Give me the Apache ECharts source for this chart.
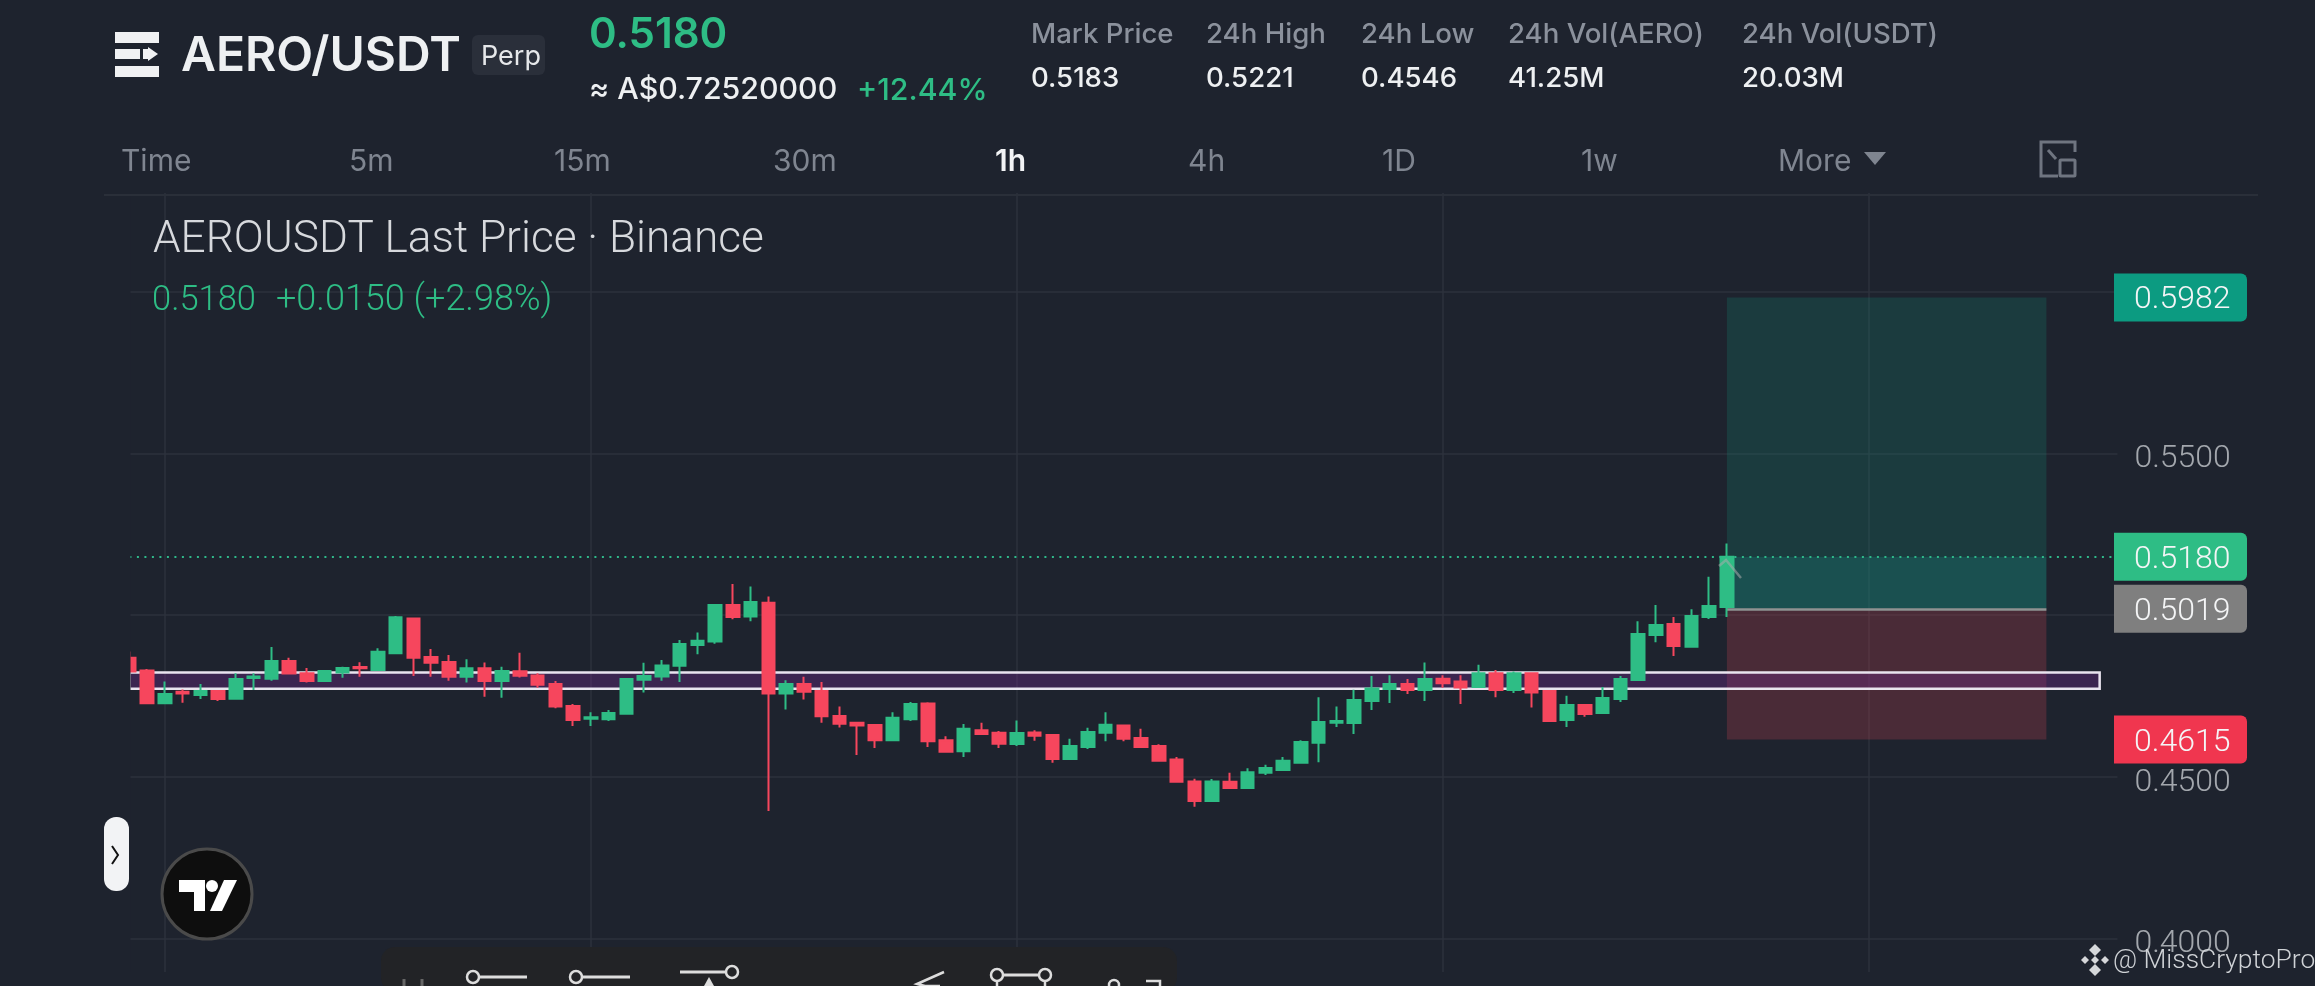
<!DOCTYPE html>
<html><head><meta charset="utf-8">
<style>html,body{margin:0;padding:0;background:#1e232e}#c{width:2315px;height:986px}</style>
<script src="https://cdn.jsdelivr.net/npm/echarts@6/dist/echarts.min.js"></script>
</head><body><div id="c"></div>
<script>
// candle values (hourly, oldest first)
const opens=[.4868,.4828,.4727,.4763,.4753,.4765,.4741,.4805,.4803,.4858,.4820,.4796,.4822,.4839,.4830,.4882,.4989,.4870,.4855,.4809,.4835,.4796,.4826,.4813,.4787,.4719,.4679,.4678,.4695,.4800,.4810,.4843,.4907,.4918,.5031,.4995,.5038,.4757,.4787,.4765,.4688,.4667,.4660,.4613,.4678,.4726,.4613,.4579,.4644,.4636,.4601,.4637,.4629,.4555,.4592,.4636,.4658,.4620,.4595,.4553,.4485,.4425,.4484,.4465,.4512,.4521,.4543,.4605,.4667,.4666,.4734,.4771,.4787,.4768,.4803,.4794,.4777,.4820,.4768,.4820,.4765,.4675,.4722,.4697,.4740,.4799,.4938,.4972,.4902,.4994,.5025];
const closes=[.4825,.4727,.4756,.4757,.4765,.4740,.4802,.4810,.4858,.4819,.4796,.4827,.4836,.4835,.4886,.4993,.4868,.4852,.4809,.4835,.4796,.4827,.4812,.4784,.4717,.4675,.4684,.4697,.4802,.4811,.4844,.4910,.4920,.5031,.4994,.5040,.4757,.4787,.4763,.4687,.4664,.4658,.4613,.4682,.4725,.4610,.4577,.4648,.4632,.4602,.4635,.4627,.4555,.4595,.4638,.4661,.4617,.4592,.4549,.4484,.4425,.4485,.4465,.4514,.4527,.4549,.4607,.4669,.4672,.4737,.4773,.4787,.4768,.4802,.4789,.4776,.4820,.4768,.4820,.4760,.4672,.4722,.4694,.4743,.4802,.4941,.4969,.4904,.4997,.5028,.5180];
const lows=[.4822,.4727,.4727,.4729,.4740,.4734,.4740,.4768,.4797,.4819,.4791,.4796,.4806,.4809,.4830,.4879,.4811,.4809,.4797,.4791,.4747,.4744,.4807,.4775,.4712,.4657,.4657,.4672,.4693,.4760,.4797,.4793,.4879,.4911,.4987,.4981,.4394,.4708,.4739,.4667,.4652,.4567,.4589,.4611,.4672,.4592,.4574,.4561,.4630,.4589,.4595,.4611,.4543,.4553,.4586,.4610,.4610,.4592,.4549,.4482,.4407,.4425,.4462,.4465,.4505,.4521,.4543,.4545,.4654,.4632,.4706,.4728,.4756,.4734,.4775,.4725,.4777,.4746,.4759,.4714,.4672,.4654,.4685,.4697,.4731,.4799,.4916,.4873,.4902,.4988,.4994];
const highs=[.4887,.4833,.4794,.4770,.4787,.4768,.4820,.4820,.4901,.4868,.4836,.4827,.4840,.4854,.4897,.4997,.4989,.4895,.4876,.4863,.4853,.4840,.4883,.4820,.4796,.4725,.4699,.4706,.4805,.4852,.4861,.4923,.4946,.5031,.5096,.5088,.5057,.4798,.4809,.4793,.4717,.4667,.4660,.4699,.4731,.4730,.4625,.4663,.4667,.4641,.4674,.4644,.4629,.4617,.4651,.4699,.4660,.4648,.4600,.4561,.4494,.4493,.4512,.4526,.4537,.4561,.4613,.4746,.4717,.4769,.4811,.4814,.4802,.4853,.4814,.4814,.4846,.4830,.4825,.4822,.4765,.4750,.4725,.4777,.4811,.4981,.5031,.4994,.5018,.5118,.5221];
const yTicks={min:.35,max:.65,step:.05};
const lastPrice=.5180, targetPrice=.5982, entryPrice=.5019, stopPrice=.4615;
const zoneTop=.4822, zoneBottom=.4772;
const slotCount=113;
const categories=[]; for(let i=0;i<slotCount;i++) categories.push(String(i));
const entryIdx=90, posEndIdx=108, zoneEndIdx=111;
const candleData=opens.map((o,i)=>[o,closes[i],lows[i],highs[i]]);

const chart=echarts.init(document.getElementById('c'),null,{renderer:'canvas',width:2315,height:986});
const BG='#1e232e', GRID='#2d323c';
chart.setOption({
 animation:false,backgroundColor:BG,
 grid:{left:129.4,width:1988,top:129.9,height:970.2,outerBoundsMode:'none'},
 xAxis:{type:'category',data:categories,boundaryGap:false,axisLine:{show:false},axisTick:{show:false},axisLabel:{show:false},
   splitLine:{show:true,interval:i=>(i-2)%24===0,lineStyle:{color:GRID,width:1.5}}},
 yAxis:{type:'value',position:'right',min:yTicks.min,max:yTicks.max,interval:yTicks.step,scale:true,
   axisLine:{show:false},axisTick:{show:false},
   axisLabel:{margin:17,formatter:v=>'{a|'+v.toFixed(4)+'}',
     rich:{a:{padding:[12,0,0,0],color:'#a3a7ad',fontFamily:'Roboto',fontWeight:300,fontSize:32}}},
   splitLine:{show:true,lineStyle:{color:GRID,width:1.5}}},
 series:[
  {type:'line',data:[],z:1,silent:true,markArea:{silent:true,z:1,data:[
    [{xAxis:entryIdx,yAxis:targetPrice,itemStyle:{color:'rgba(20,130,110,.25)'}},{xAxis:posEndIdx,yAxis:lastPrice}],
    [{xAxis:entryIdx,yAxis:lastPrice,itemStyle:{color:'rgba(23,135,122,.45)'}},{xAxis:posEndIdx,yAxis:entryPrice}],
    [{xAxis:entryIdx,yAxis:entryPrice,itemStyle:{color:'rgba(180,62,77,.3)'}},{xAxis:posEndIdx,yAxis:stopPrice}]
  ]},markLine:{silent:true,symbol:'none',label:{show:false},z:1,animation:false,
    lineStyle:{color:'#8e9493',width:2.5,type:'solid'},
    data:[[{xAxis:entryIdx,yAxis:entryPrice},{xAxis:posEndIdx,yAxis:entryPrice}]]}},
  {type:'line',data:[],z:2,silent:true,markArea:{silent:true,z:2,data:[
    [{xAxis:0,yAxis:zoneTop,itemStyle:{color:'rgba(115,44,143,.35)',borderColor:'#e9e4ef',borderWidth:2.5}},{xAxis:zoneEndIdx,yAxis:zoneBottom}]
  ]}},
  {type:'candlestick',name:'AEROUSDT',z:3,barWidth:13,data:candleData,
   itemStyle:{color:'#2ebd85',color0:'#f6465d',borderColor:'#2ebd85',borderColor0:'#f6465d',borderWidth:2}},
  {type:'line',data:[],z:4,silent:true,markLine:{silent:true,symbol:'none',label:{show:false},z:4,animation:false,
     lineStyle:{color:'#2fb98a',width:2,type:[2,5.5]},
     data:[[{xAxis:0,yAxis:lastPrice},{xAxis:slotCount-1,yAxis:lastPrice}]]}}
 ]
});

// chrome around the chart
const F='Inter, "Open Sans", sans-serif', R='Roboto, sans-serif';
const el=[]; const Z=100;
const t=(text,x,y,size,fill,weight,family,align,sx)=>el.push({type:'text',z:Z+2,silent:true,x,y,scaleX:sx||1,style:{text,x:0,y:0,fill,font:`${weight||400} ${size}px ${family||F}`,textAlign:align||'left',textVerticalAlign:'middle'}});
const rect=(x,y,w,h,fill,r,stroke,lw)=>el.push({type:'rect',z:Z+1,silent:true,shape:{x,y,width:w,height:h,r:r||0},style:{fill:fill||'none',stroke:stroke||null,lineWidth:lw||0}});
const line=(x1,y1,x2,y2,stroke,lw)=>el.push({type:'line',z:Z+2,silent:true,shape:{x1,y1,x2,y2},style:{stroke,lineWidth:lw}});
const circle=(cx,cy,r,fill,stroke,lw)=>el.push({type:'circle',z:Z+2,silent:true,shape:{cx,cy,r},style:{fill,stroke,lineWidth:lw}});
const poly=(pts,fill,stroke,lw,open)=>el.push({type:open?'polyline':'polygon',z:Z+2,silent:true,shape:{points:pts},style:{fill:open?'none':fill,stroke:stroke||null,lineWidth:lw||0}});
// masks around the plot
el.push({type:'rect',z:Z,silent:true,shape:{x:0,y:0,width:2315,height:193},style:{fill:BG}});
el.push({type:'rect',z:Z,silent:true,shape:{x:0,y:972,width:2315,height:14},style:{fill:BG}});
el.push({type:'rect',z:Z,silent:true,shape:{x:0,y:193,width:130.5,height:779},style:{fill:BG}});
rect(104,194,2154,2,'#2a2f39');
// logo
rect(115,32,44,11,'#f0f1f3');rect(115,66,44,11,'#f0f1f3');rect(115,49,25,10,'#f0f1f3');rect(143,49,5,10,'#f0f1f3');
poly([[148,47],[158,54],[148,61]],'#f0f1f3');
t('AERO/USDT',181,57,48,'#eef0f2',600);
rect(472,35,73,40,'#2a2f3a',6);
t('Perp',481,57,27,'#e6e8ea',400);
t('0.5180',589,35,42,'#2ebd85',600);
t('≈ A$0.72520000',589,90,30.3,'#eef0f2',500);
t('+12.44%',857,91,30.3,'#2ebd85',500);
const statLabels=['Mark Price','24h High','24h Low','24h Vol(AERO)','24h Vol(USDT)'];
const statValues=['0.5183','0.5221','0.4546','41.25M','20.03M'];
const statX=[1031,1206,1361,1508,1742];
statLabels.forEach((s,i)=>{t(s,statX[i],35,27.6,'#8b919c',500);t(statValues[i],statX[i],79,27.6,'#eef0f2',500);});
const tabs=['Time','5m','15m','30m','1h','4h','1D','1w','More'];
const tabX=[121,349,554,773,995,1188,1382,1581,1778];
tabs.forEach((s,i)=>t(s,tabX[i],162,30,s==='1h'?'#f2f3f5':'#7f8590',s==='1h'?600:400));
poly([[1864,152],[1886,152],[1875,165]],'#7f8590');
poly([[2058,142],[2041,142],[2041,176],[2058,176]],null,'#6f7580',3,true);
poly([[2058,142],[2075,142],[2075,152]],null,'#6f7580',3,true);
rect(2060,160,15,16,BG,1,'#6f7580',3);
line(2048,150,2056,159,'#6f7580',3);
t('AEROUSDT Last Price · Binance',153,241,44.2,'#d7d9dd',300,R);
t('0.5180',152,301,34.5,'#2ebd85',300,R);
t('+0.0150 (+2.98%)',276,301,36,'#2ebd85',300,R);
// left widgets
rect(104,817,25,74,'#f2f3f5',12);
poly([[112,846],[118,855],[112,864]],null,'#111',2,true);
circle(207,894,45,'#0e0e0e','#4a4a4a',3);
poly([[179,880],[205,880],[205,911],[194,911],[194,892],[179,892]],'#fff');
circle(212,886,6,'#fff');
poly([[224,880],[237,880],[222,911],[210,911]],'#fff');
// bottom toolbar
el.push({type:'rect',z:Z+1,silent:true,shape:{x:381,y:947,width:796,height:45,r:14},style:{fill:'#222326'}});
line(404,986,404,979,'#666',3);line(422,986,422,979,'#666',3);
[[473,527],[576,630]].forEach(p=>{circle(p[0],977,6,'#222326','#ddd',2.5);line(p[0]+6,977,p[1],977,'#ddd',3);});
line(680,972,726,972,'#ddd',3);circle(732,972,6,'#222326','#ddd',2.5);poly([[709,977],[704,986],[714,986]],'#ddd');
poly([[944,972],[917,984],[925,986],[940,986]],null,'#ddd',2.5,true);
line(1003,975,1039,975,'#ddd',3);circle(997,975,6,'#222326','#ddd',2.5);circle(1045,975,6,'#222326','#ddd',2.5);
line(997,981,997,986,'#ddd',2.5);line(1045,981,1045,986,'#ddd',2.5);
circle(1114,985,5,'#222326','#ddd',2.5);poly([[1146,981],[1160,981],[1160,986]],null,'#ddd',2.5,true);
// cursor near the last candle
poly([[1719,566],[1726,560],[1741,578]],null,'rgba(170,172,172,.55)',2.5,true);
// watermark
[[2095,950,6],[2085,960,4],[2105,960,4],[2095,960,4],[2095,970,6]].forEach(d=>poly([[d[0],d[1]-d[2]],[d[0]+d[2],d[1]],[d[0],d[1]+d[2]],[d[0]-d[2],d[1]]],'#d5d7da'));
t('@ MissCryptoPro',2113,961,26.4,'#cfd2d6',300,R);
// price tags, placed through the axis
const tagValues=[targetPrice,lastPrice,entryPrice,stopPrice];
const tagColors=['#0c9b81','#2ebd85','#7f7f7f','#f0364f'];
tagValues.forEach((v,i)=>{
 const y=chart.convertToPixel({yAxisIndex:0},v);
 rect(2114,y-24,133,48,tagColors[i],[0,6,6,0]);
 t(v.toFixed(4),2134,y+3,32,'#f4f5f6',300,R);
});
chart.setOption({graphic:{elements:el}});
</script></body></html>
